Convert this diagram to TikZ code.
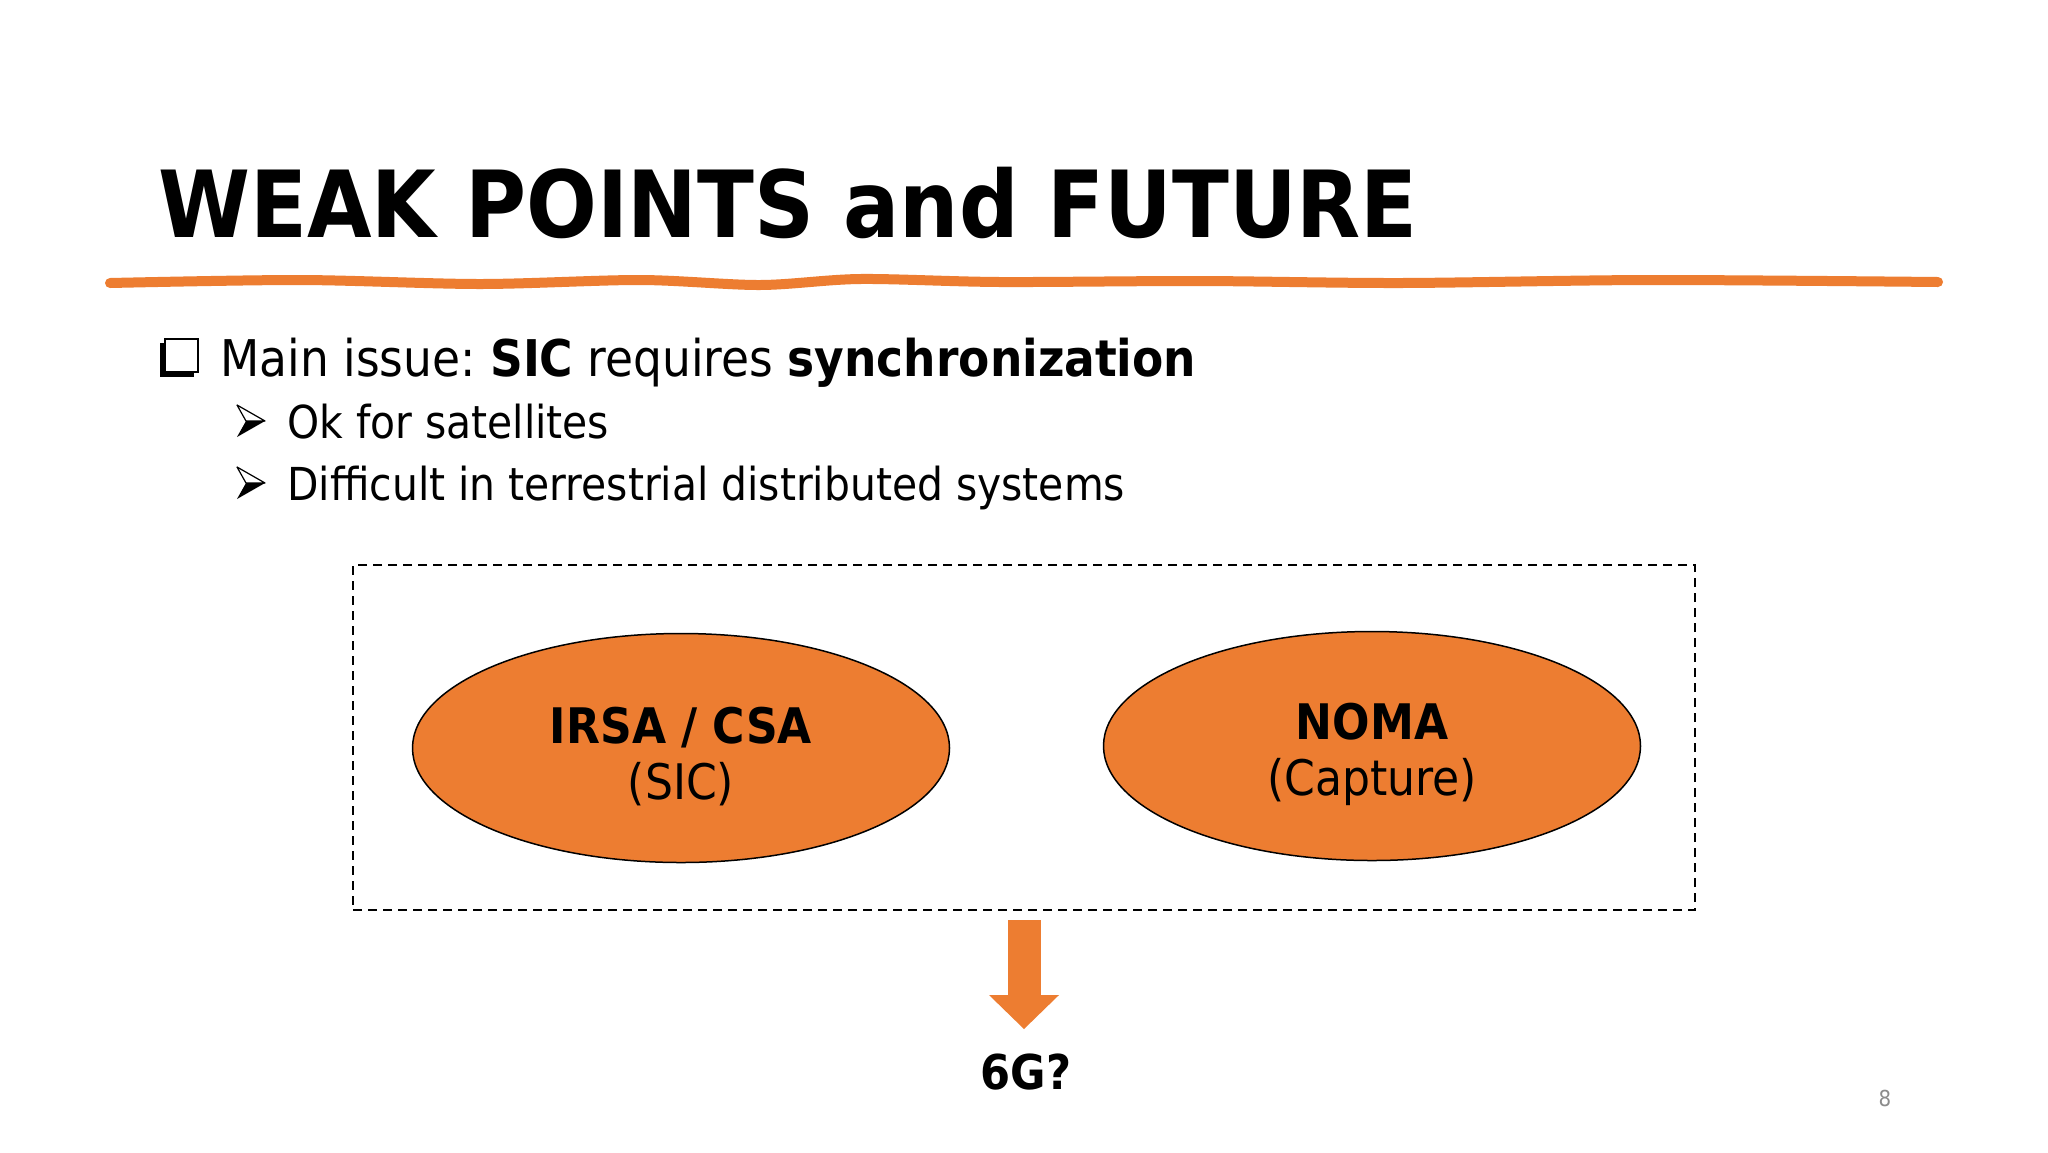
\documentclass[tikz,border=0pt]{standalone}
\usepackage{fontspec}
\setmainfont{DejaVu Sans Condensed}
\usetikzlibrary{arrows.meta, positioning, shapes.geometric}
\definecolor{slideorange}{RGB}{237,125,49}
\definecolor{pagegray}{RGB}{140,140,140}
\frenchspacing
\tikzset{
  titletext/.style={anchor=base west, inner sep=0pt,
    font=\fontsize{46.3}{56}\selectfont\bfseries},
  itemtext/.style={anchor=base west, inner sep=0pt,
    font=\fontsize{25.3}{30}\selectfont},
  subtext/.style={anchor=base west, inner sep=0pt,
    font=\fontsize{22.7}{27}\selectfont},
  bubble/.style={ellipse, draw=black, fill=slideorange, line width=0.75pt,
    minimum width=268.5pt, minimum height=114.5pt, align=center,
    inner sep=0pt, font=\fontsize{24.5}{28}\selectfont},
  dashbox/.style={draw=black, line width=1pt, dash pattern=on 4.5pt off 3pt,
    minimum width=671pt, minimum height=172.5pt, inner sep=0pt},
  downarrow/.style={slideorange, line width=16.5pt,
    -{Triangle[length=17pt, width=35pt, line width=0pt]}},
  pics/subarrow/.style={code={
    \filldraw[fill=white, draw=black, line width=0.6pt, line join=round]
      (0,0) -- (28,16) -- (9,16) -- cycle;
    \fill[black] (9,16) -- (28,16) -- (0,32) -- cycle;}}
}
\newcommand{\topstrut}{\rule{0pt}{27pt}}
\begin{document}
\begin{tikzpicture}[x=0.5pt, y=-0.5pt]
  \fill[white] (0,0) rectangle (2048,1152);
  \useasboundingbox (0,0) rectangle (2048,1152);
  % title and brush stroke
  \node[titletext] (title) at (158,237) {WEAK POINTS and FUTURE};
  \draw[slideorange, line width=5pt, line cap=round]
    plot[smooth] coordinates {(110,283) (300,280) (480,284) (640,280)
      (760,285) (860,279) (1000,282) (1200,281) (1400,283) (1650,280) (1938,282)};
  % bullets
  \fill[black] (160,343) rectangle (194,377);
  \filldraw[fill=white, draw=black, line width=1.2pt] (165,339) rectangle (198,372);
  \node[itemtext] (issue) at (220,376)
    {Main issue: \textbf{SIC} requires \textbf{synchronization}};
  \pic at (237,405) {subarrow};
  \node[subtext] (sat) at (287,438) {Ok for satellites};
  \pic at (237,467) {subarrow};
  \node[subtext] (terr) at (287,500) {Difficult in terrestrial distributed systems};
  % dashed frame with the two schemes
  \node[dashbox] (frame) at (1024,737.5) {};
  \node[bubble] (irsa) at (681,748) {\topstrut\textbf{IRSA / CSA}\\(SIC)};
  \node[bubble] (noma) at (1372,746) {\topstrut\textbf{NOMA}\\(Capture)};
  % towards 6G
  \node[anchor=base, inner sep=0pt, font=\fontsize{24}{28}\selectfont\bfseries]
    (sixg) at (1026,1089) {6G?};
  \coordinate (arrtop) at (1024,920);
  \coordinate (arrtip) at (1024,1029);
  \draw[downarrow] (arrtop) -- (arrtip);
  \node[anchor=base, inner sep=0pt, text=pagegray, font=\fontsize{11}{13}\selectfont]
    (pagenum) at (1885,1106) {8};
\end{tikzpicture}
\end{document}
